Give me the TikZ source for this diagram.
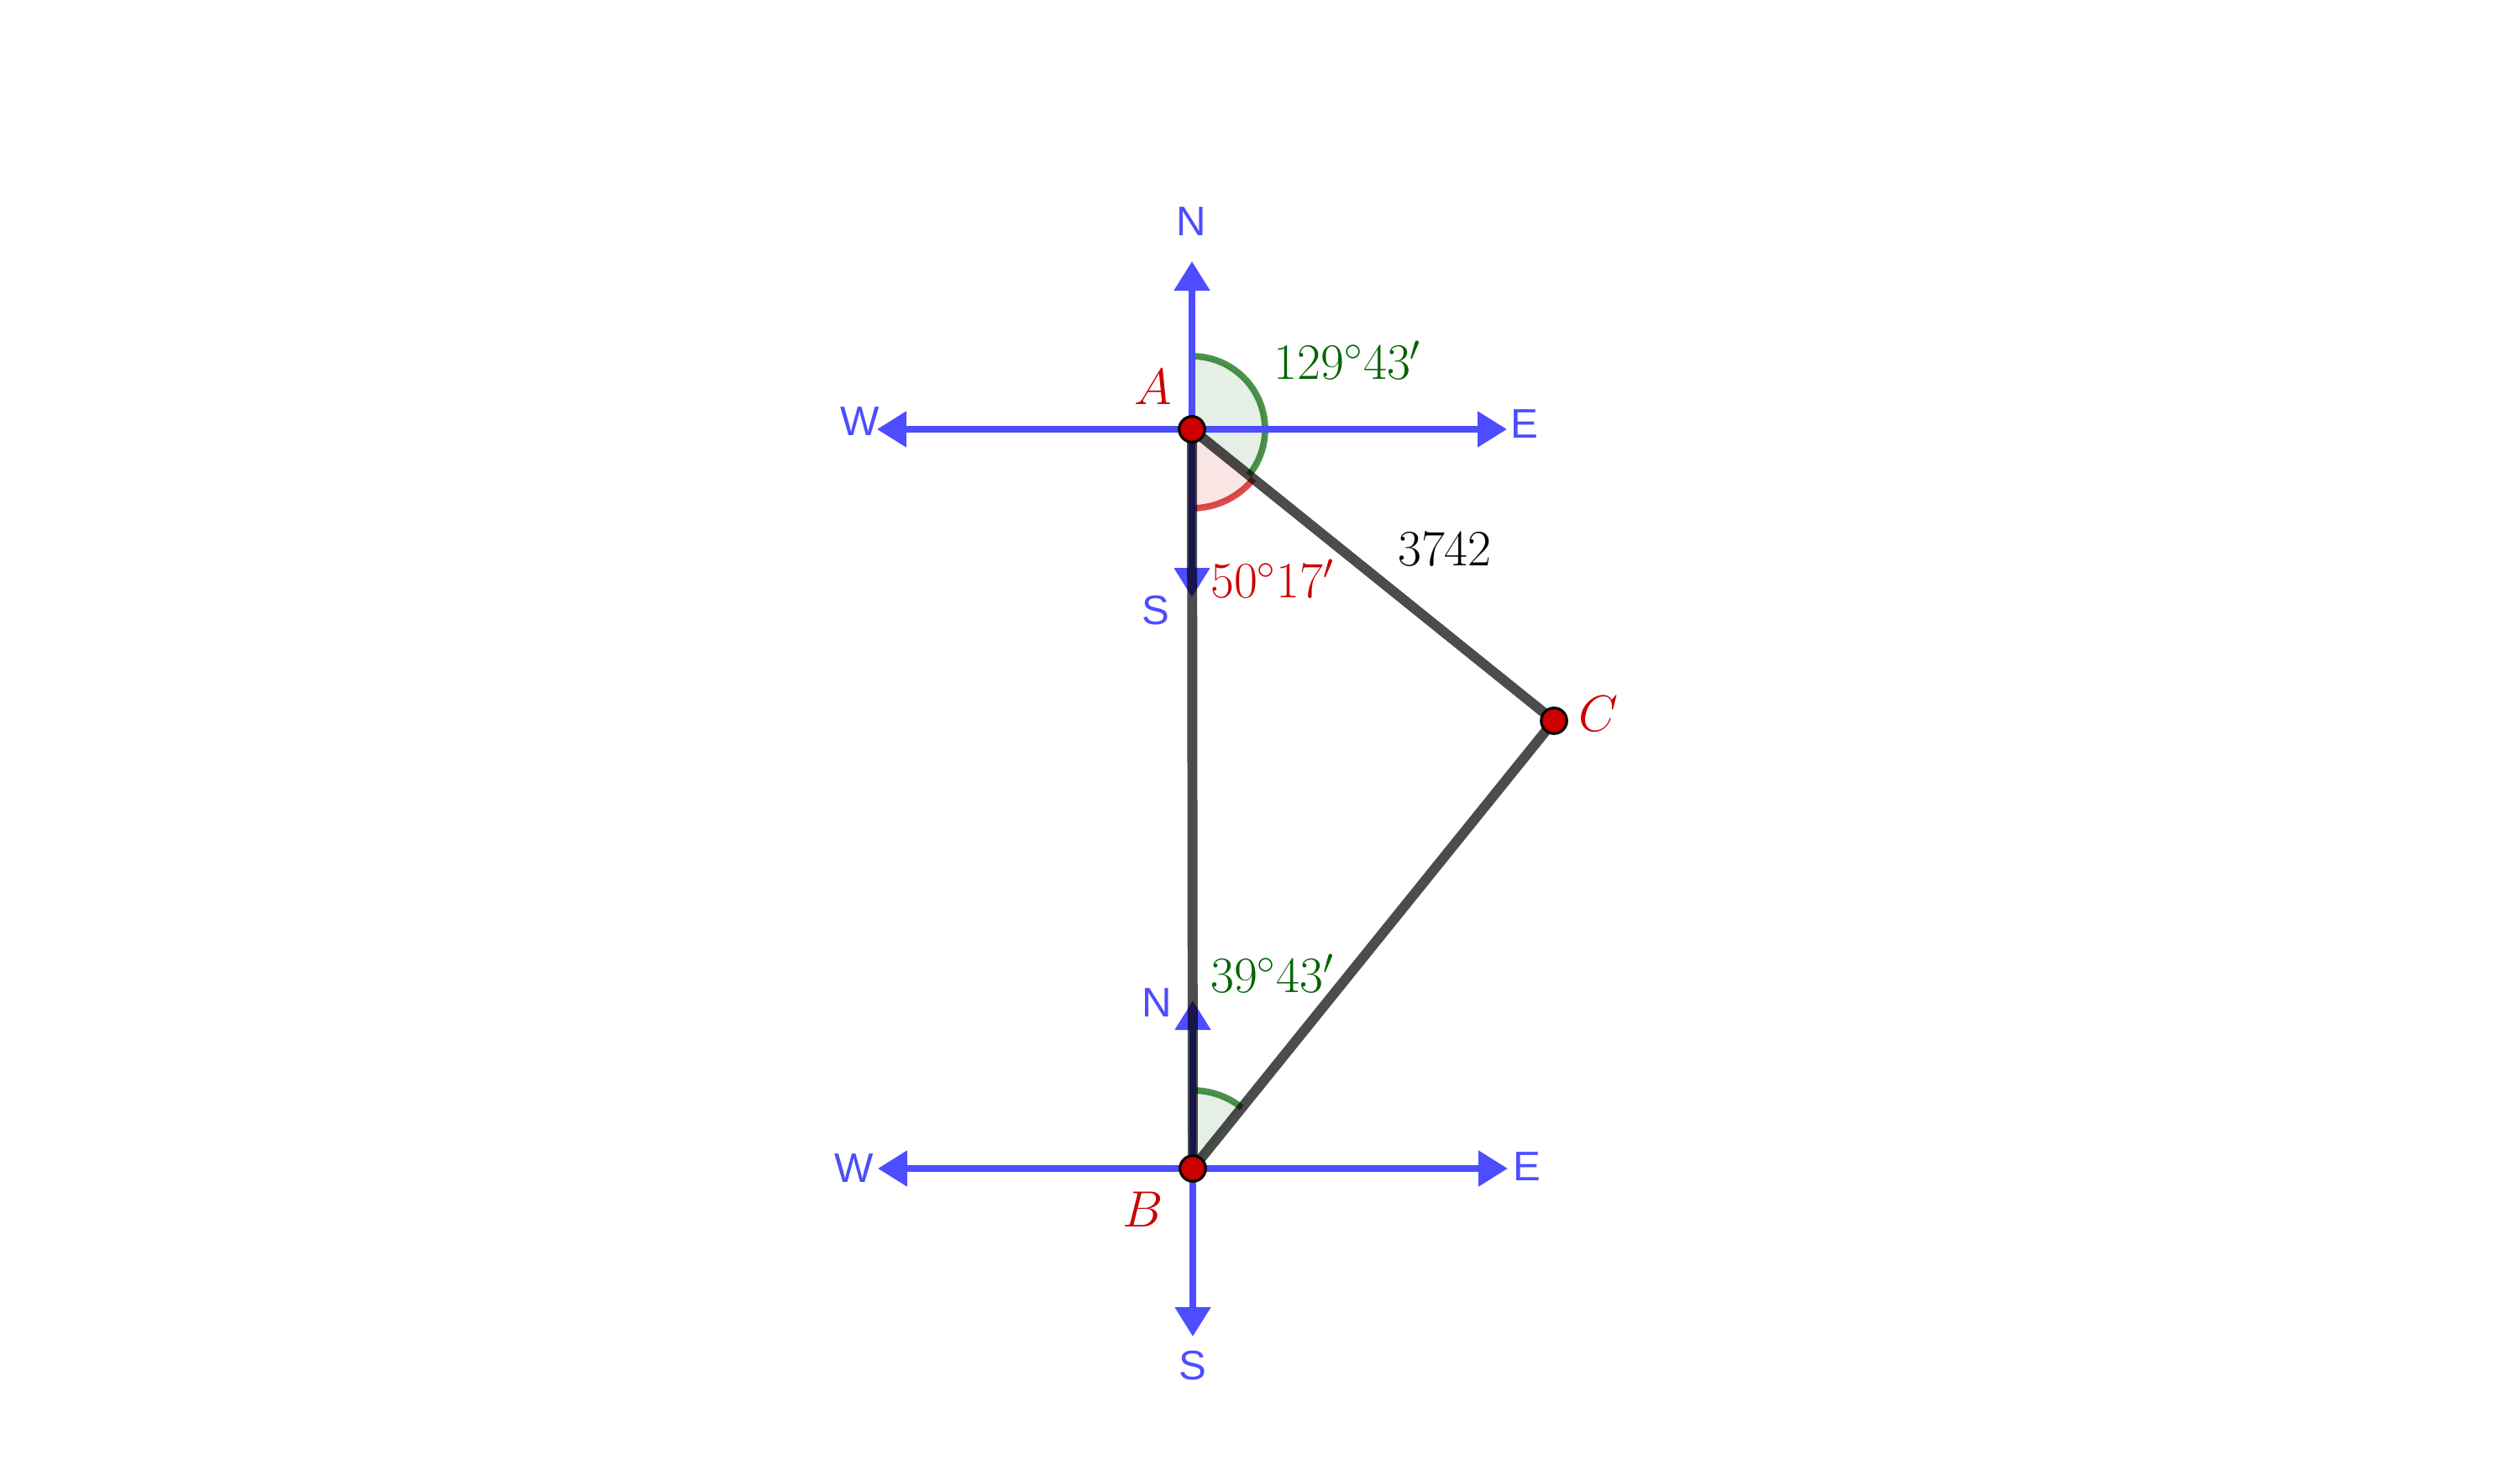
\documentclass[tikz,border=0pt]{standalone}
\usepackage{fontspec}
\newfontfamily\compassfont{Liberation Sans}
\usetikzlibrary{arrows.meta,angles}
\definecolor{compassblue}{RGB}{77,77,255}
\definecolor{ptred}{RGB}{204,0,0}
\definecolor{anggreen}{RGB}{0,100,0}

\begin{document}
\begin{tikzpicture}[
        compass/.style={draw=compassblue, line width=2.3pt, -{Triangle[length=3.5mm, width=4.1mm]}},
        dirlabel/.style={text=compassblue, inner sep=0pt, font=\compassfont\fontsize{14}{16}\selectfont},
        side/.style={draw=black, draw opacity=0.7, line width=3.4pt},
        ptdot/.style={circle, draw=black, fill=ptred, line width=0.9pt, inner sep=0pt, minimum size=3.05mm},
        ptlabel/.style={text=ptred, inner sep=0pt, font=\fontsize{17.5}{20}\selectfont},
        anglabel/.style={inner sep=0pt, font=\fontsize{17.5}{20}\selectfont}
    ]
        \useasboundingbox (0,0) rectangle (30,-17.37);

        \coordinate (A) at (14.19,-5.11);
        \coordinate (B) at (14.20,-13.91);
        \coordinate (C) at (18.50,-8.58);

        \coordinate (aN) at (14.19,-3.11);
        \coordinate (aS) at (14.19,-7.11);
        \coordinate (aW) at (10.44,-5.11);
        \coordinate (aE) at (17.94,-5.11);
        \coordinate (bN) at (14.20,-11.91);
        \coordinate (bS) at (14.20,-15.91);
        \coordinate (bW) at (10.45,-13.91);
        \coordinate (bE) at (17.95,-13.91);

        % angles
        \pic[draw=anggreen, draw opacity=0.7, fill=anggreen, fill opacity=0.1, line width=2.2pt, angle radius=0.87cm] {angle=C--A--aN};
        \pic[draw=ptred, draw opacity=0.7, fill=ptred, fill opacity=0.1, line width=2.2pt, angle radius=0.94cm] {angle=aS--A--C};
        \pic[draw=anggreen, draw opacity=0.7, fill=anggreen, fill opacity=0.1, line width=2.2pt, angle radius=0.93cm] {angle=C--B--bN};

        % compass at A and B
        \draw[compass] (A) -- (aN);
        \draw[compass] (A) -- (aS);
        \draw[compass] (A) -- (aW);
        \draw[compass] (A) -- (aE);
        \draw[compass] (B) -- (bN);
        \draw[compass] (B) -- (bS);
        \draw[compass] (B) -- (bW);
        \draw[compass] (B) -- (bE);

        \draw[side] (A) -- (B);
        \draw[side] (A) -- (C);
        \draw[side] (B) -- (C);

        \node[ptdot] (dotA) at (A) {};
        \node[ptdot] (dotB) at (B) {};
        \node[ptdot] (dotC) at (C) {};

        \node[ptlabel] (labA) at (13.725,-4.61) {$A$};
        \node[ptlabel] (labB) at (13.61,-14.40) {$B$};
        \node[ptlabel] (labC) at (19.025,-8.50) {$C$};

        \node[dirlabel] (nA) at (14.18,-2.64) {N};
        \node[dirlabel] (wA) at (10.235,-5.015) {W};
        \node[dirlabel] (eA) at (18.15,-5.045) {E};
        \node[dirlabel] (sA) at (13.755,-7.27) {S};
        \node[dirlabel] (nB) at (13.77,-11.94) {N};
        \node[dirlabel] (wB) at (10.167,-13.91) {W};
        \node[dirlabel] (eB) at (18.18,-13.885) {E};
        \node[dirlabel] (sB) at (14.20,-16.26) {S};

        \node[anglabel, text=anggreen] (bearA) at (16.045,-4.29) {$129^\circ 43'$};
        \node[anglabel, text=ptred] (angA) at (15.15,-6.89) {$50^\circ 17'$};
        \node[anglabel, text=anggreen] (bearB) at (15.15,-11.59) {$39^\circ 43'$};
        \node[anglabel] (lenAC) at (17.20,-6.54) {$3742$};

    \end{tikzpicture}
\end{document}
